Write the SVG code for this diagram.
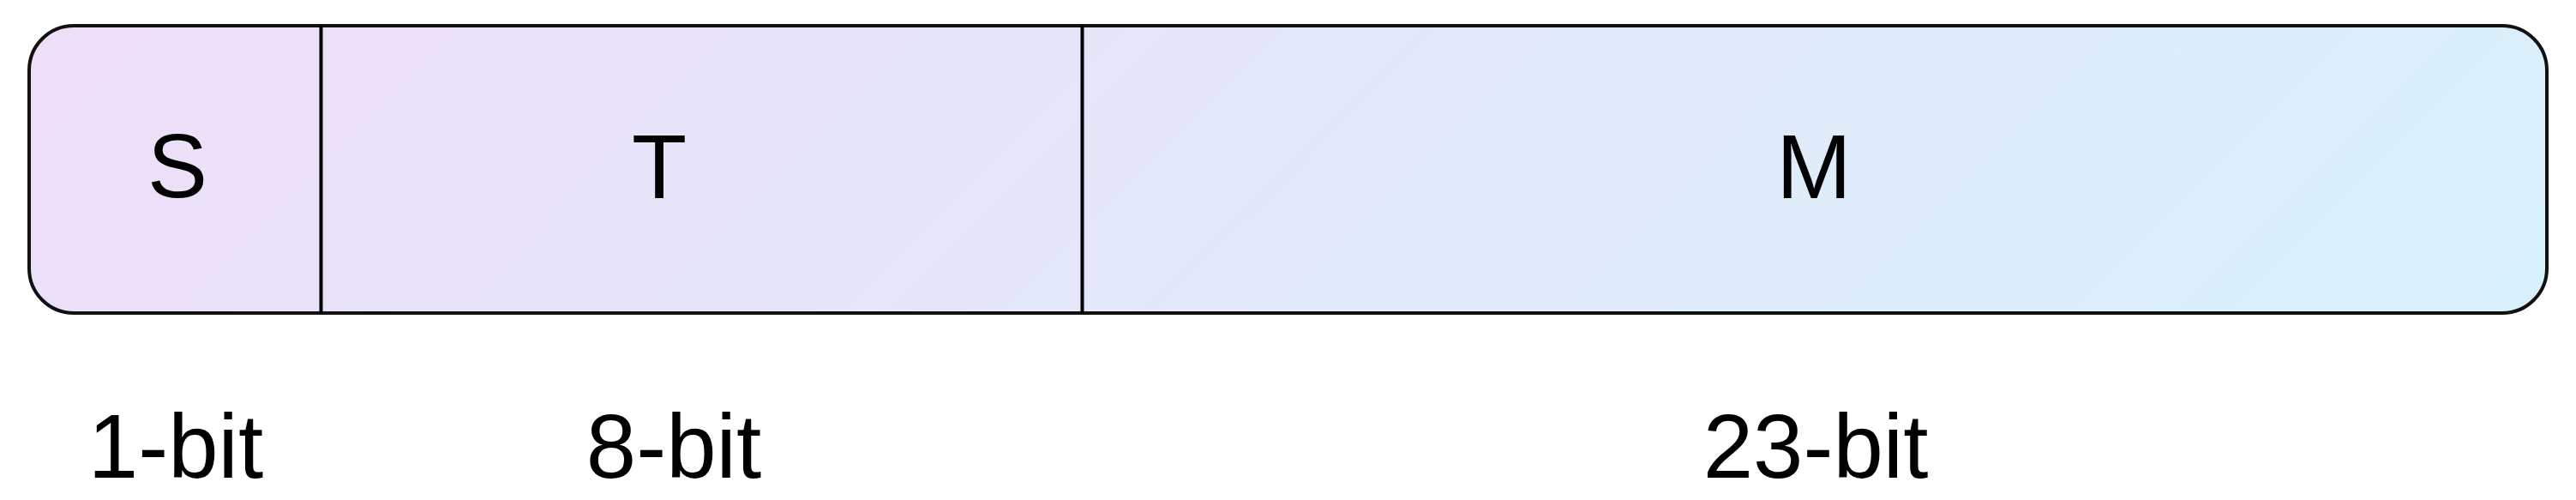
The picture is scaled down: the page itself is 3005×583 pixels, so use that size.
<svg xmlns="http://www.w3.org/2000/svg" width="3005" height="583" viewBox="0 0 3005 583">
  <defs>
    <linearGradient id="fillGrad" x1="34" y1="30" x2="1670" y2="1666" gradientUnits="userSpaceOnUse">
      <stop offset="0" stop-color="#EEDFF8"/>
      <stop offset="1" stop-color="#D8F1FA"/>
    </linearGradient>
  </defs>
  <style>
    .lbl { font-family: "Liberation Sans", Arial, sans-serif; font-size: 105px; fill: #000; text-anchor: middle; }
    .div { stroke: #000; stroke-width: 4; }
  </style>
  <rect width="3005" height="583" fill="#fff"/>
  <g id="register">
    <rect x="34" y="30" width="2937" height="335" rx="52" ry="52" fill="url(#fillGrad)" stroke="#111" stroke-width="4"/>
  </g>
  <g id="connectors">
    <line class="div" x1="374.5" y1="30" x2="374.5" y2="365"/>
    <line class="div" x1="1262.5" y1="30" x2="1262.5" y2="365"/>
  </g>
  <g id="field-S">
    <text class="lbl" x="207" y="230">S</text>
  </g>
  <g id="field-T">
    <text class="lbl" x="769" y="231">T</text>
  </g>
  <g id="field-M">
    <text class="lbl" x="2116" y="231">M</text>
  </g>
  <g id="label-1bit">
    <text class="lbl" x="205" y="557">1-bit</text>
  </g>
  <g id="label-8bit">
    <text class="lbl" x="786" y="557">8-bit</text>
  </g>
  <g id="label-23bit">
    <text class="lbl" x="2118" y="557">23-bit</text>
  </g>
</svg>
